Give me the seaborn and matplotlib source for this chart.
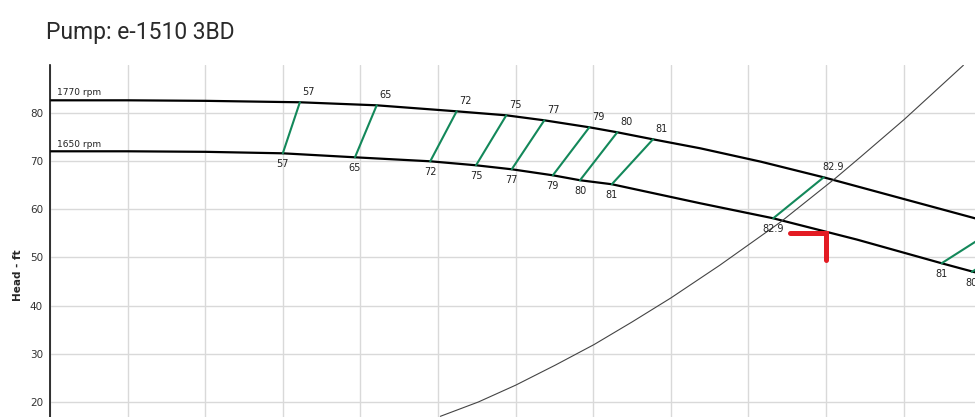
import matplotlib
matplotlib.use("Agg")
import matplotlib.pyplot as plt
import numpy as np
import pandas as pd
import seaborn as sns

# pump curves (flow units = one grid column per 100, head in ft)
flow_1770 = [0, 100, 200, 322, 421, 524, 588, 637, 695, 731, 777, 838, 916, 997, 1192, 1270]
head_1770 = [82.66, 82.66, 82.55, 82.25, 81.62, 80.37, 79.54, 78.50, 77.05, 76.01, 74.55, 72.68, 69.9, 66.65, 58.13, 55.0]

flow_1650 = [0, 100, 200, 300, 393, 490, 549, 595, 648, 683, 724, 838, 932, 1040, 1149, 1192, 1270]
head_1650 = [72.06, 72.06, 71.95, 71.64, 70.81, 69.98, 69.15, 68.32, 67.07, 66.04, 65.21, 61.25, 58.13, 53.7, 48.78, 46.91, 43.6]

# system curve
sys_flow = [503, 552, 600, 651, 701, 750, 800, 863, 941, 1012, 1044, 1101, 1177]
sys_head = [16.96, 19.94, 23.43, 27.59, 31.87, 36.57, 41.56, 48.36, 57.30, 66.44, 70.81, 78.71, 89.94]

# efficiency iso-lines: label, point on 1770 curve, point on 1650 curve
eff_labels = ["57", "65", "72", "75", "77", "79", "80", "81", "82.9", "81", "80"]
eff_top_flow = [322, 421, 524, 588, 637, 695, 731, 777, 997, 1224, 1269]
eff_top_head = [82.25, 81.62, 80.37, 79.54, 78.50, 77.05, 76.01, 74.55, 66.65, 56.5, 55.2]
eff_bot_flow = [300, 393, 490, 549, 595, 648, 683, 724, 932, 1149, 1188]
eff_bot_head = [71.64, 70.81, 69.98, 69.15, 68.32, 67.07, 66.04, 65.21, 58.13, 48.78, 47.0]
eff_show_top = [True, True, True, True, True, True, True, True, True, False, False]

# red marker drawn on the chart
mark_flow = [954, 1000, 1000]
mark_head = [55.0, 55.0, 49.5]

yticks = [20, 30, 40, 50, 60, 70, 80]

sns.set_theme(style="whitegrid")
plt.rcParams["font.family"] = ["DejaVu Sans"]

fig = plt.figure(figsize=(9.75, 4.17), dpi=100)
# the plot area runs past the bottom edge of the picture
ax = fig.add_axes([50 / 975, 1 - 485 / 417, 925 / 975, 420 / 417])

curves = pd.concat([
    pd.DataFrame({"flow": flow_1770, "head": head_1770, "rpm": "1770 rpm"}),
    pd.DataFrame({"flow": flow_1650, "head": head_1650, "rpm": "1650 rpm"}),
])
sns.lineplot(data=curves, x="flow", y="head", units="rpm", estimator=None,
             color="black", lw=1.6, ax=ax, sort=False)
sns.lineplot(x=sys_flow, y=sys_head, color="#444444", lw=0.8, ax=ax, sort=False)

green = "#13885a"
for i, lab in enumerate(eff_labels):
    ax.plot([eff_bot_flow[i], eff_top_flow[i]], [eff_bot_head[i], eff_top_head[i]],
            color=green, lw=1.5, zorder=3)
    if eff_show_top[i]:
        ax.annotate(lab, (eff_top_flow[i], eff_top_head[i]), xytext=(9, 10),
                    textcoords="offset pixels", ha="center", va="center",
                    fontsize=7, color="#222222")
    ax.annotate(lab, (eff_bot_flow[i], eff_bot_head[i]), xytext=(0, -11),
                textcoords="offset pixels", ha="center", va="center",
                fontsize=7, color="#222222")

ax.plot(mark_flow, mark_head, color="#e31b23", lw=3.6, solid_capstyle="round",
        solid_joinstyle="miter", zorder=4)

ax.text(9, 84.3, "1770 rpm", fontsize=6.5, color="#222222", va="center")
ax.text(9, 73.5, "1650 rpm", fontsize=6.5, color="#222222", va="center")

ax.set_xlim(0, 1192)
ax.set_ylim(90 - 420 / 4.81, 90)
ax.set_xticks(np.arange(0, 1192, 100))
ax.set_yticks(yticks)
ax.set_xticklabels([])
ax.tick_params(axis="y", labelsize=7.5, labelcolor="#333333", length=3,
               color="#bbbbbb", width=0.8, pad=2)
ax.tick_params(axis="x", length=0)
ax.grid(color="#d9d9d9", lw=1.0)
ax.set_xlabel("")
ax.set_ylabel("Head - ft", fontsize=7.5, fontweight="bold", labelpad=5)

for side in ["top", "right", "bottom"]:
    ax.spines[side].set_visible(False)
ax.spines["left"].set_color("#111111")
ax.spines["left"].set_linewidth(1.2)

fig.text(46 / 975, 1 - 32 / 417, "Pump: e-1510 3BD", fontsize=16.5,
         family=["Roboto", "DejaVu Sans"], color="#2a2a2a",
         va="center", ha="left")

fig.savefig("out.png", dpi=100)
